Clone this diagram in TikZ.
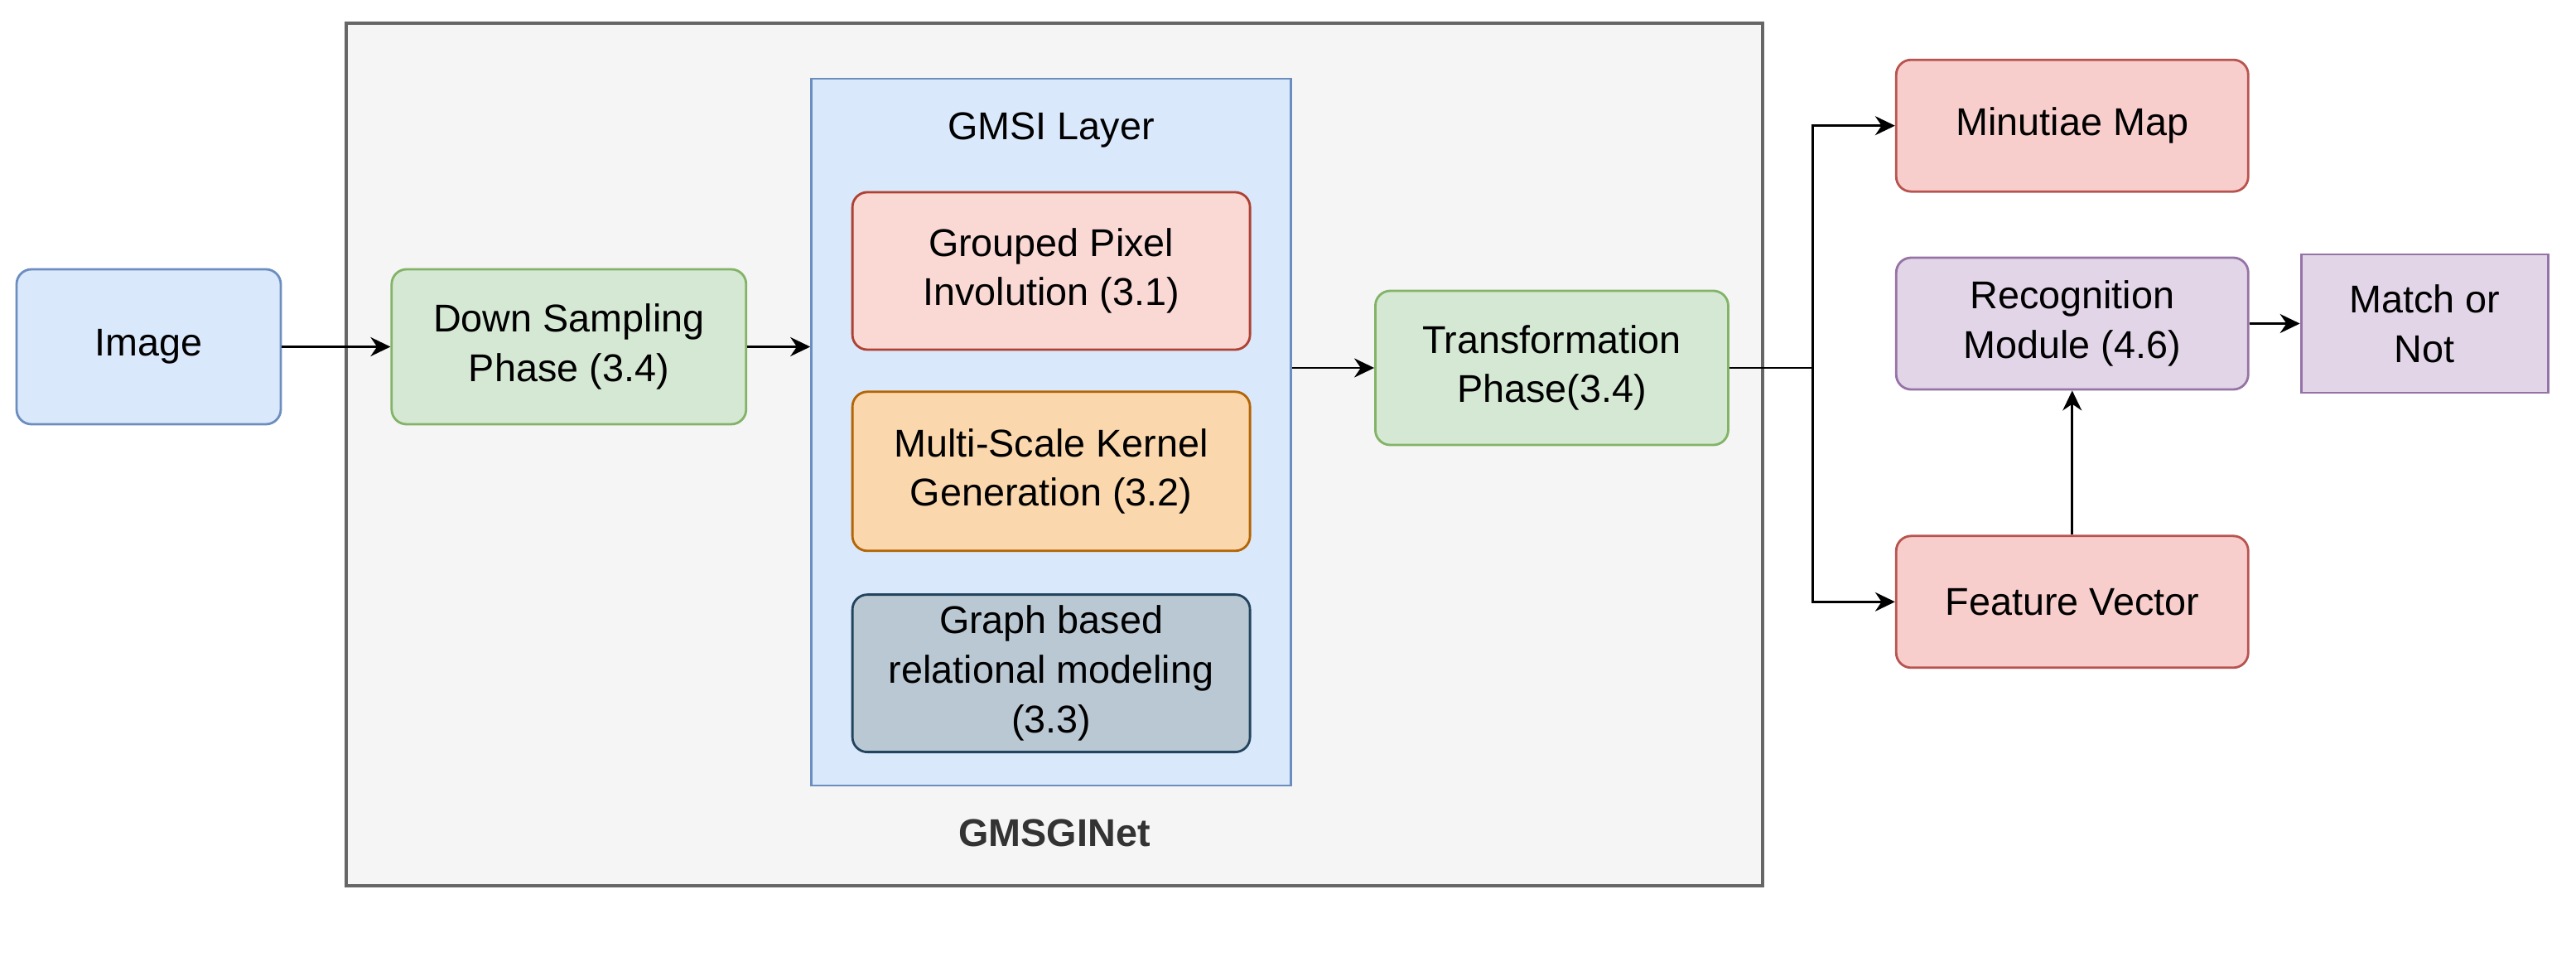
\documentclass[tikz,border=0pt]{standalone}
\usepackage{fontspec}
\setmainfont{Liberation Sans}
\usetikzlibrary{positioning,arrows.meta}

\definecolor{bluefill}{HTML}{DAE8FC}
\definecolor{bluedraw}{HTML}{6C8EBF}
\definecolor{greenfill}{HTML}{D5E8D4}
\definecolor{greendraw}{HTML}{82B366}
\definecolor{redfill}{HTML}{F8CECC}
\definecolor{reddraw}{HTML}{B85450}
\definecolor{pinkfill}{HTML}{FAD9D5}
\definecolor{pinkdraw}{HTML}{AE4132}
\definecolor{orangefill}{HTML}{FAD7AC}
\definecolor{orangedraw}{HTML}{B46504}
\definecolor{slatefill}{HTML}{BAC8D3}
\definecolor{slatedraw}{HTML}{23445D}
\definecolor{purplefill}{HTML}{E1D5E7}
\definecolor{purpledraw}{HTML}{9673A6}
\definecolor{outerfill}{HTML}{F5F5F5}
\definecolor{outerdraw}{HTML}{666666}
\definecolor{titletext}{HTML}{333333}

\begin{document}
\begin{tikzpicture}
    \tikzstyle{block} = [rectangle, rounded corners=0.18cm, draw, align=center, inner sep=0pt, line width=0.8pt, font=\fontsize{13.3}{17}\selectfont]
    \tikzstyle{plainbox} = [rectangle, draw, align=center, inner sep=0pt, line width=0.8pt, font=\fontsize{13.3}{17}\selectfont]
    \tikzstyle{bluebox} = [fill=bluefill, draw=bluedraw]
    \tikzstyle{greenbox} = [fill=greenfill, draw=greendraw]
    \tikzstyle{redbox} = [fill=redfill, draw=reddraw]
    \tikzstyle{pinkbox} = [fill=pinkfill, draw=pinkdraw]
    \tikzstyle{orangebox} = [fill=orangefill, draw=orangedraw]
    \tikzstyle{slatebox} = [fill=slatefill, draw=slatedraw]
    \tikzstyle{purplebox} = [fill=purplefill, draw=purpledraw]
    \tikzstyle{arr} = [-{Stealth[length=2.4mm, width=2.3mm]}, line width=0.8pt]

    \useasboundingbox (0,0) rectangle (31.1,-11.61);

    \node [rectangle, draw=outerdraw, fill=outerfill, line width=0.9pt, minimum width=17.1cm, minimum height=10.41cm] (gmsginet) at (12.73,-5.485) {};
    \node [block, bluebox, minimum width=3.19cm, minimum height=1.87cm] (image) at (1.795,-4.185) {Image};
    \node [block, greenbox, minimum width=4.28cm, minimum height=1.87cm, right=1.31 of image] (down) {Down Sampling\\Phase (3.4)};
    \node [plainbox, bluebox, minimum width=5.79cm, minimum height=8.53cm, right=0.76 of down, yshift=-1.03cm] (gmsi) {};
    \node [below=0.42 of gmsi.north, inner sep=0pt, font=\fontsize{13.3}{17}\selectfont] (gmsititle) {GMSI Layer};
    \node [block, pinkbox, minimum width=4.8cm, minimum height=1.9cm, below=1.37 of gmsi.north] (involution) {Grouped Pixel\\Involution (3.1)};
    \node [block, orangebox, minimum width=4.8cm, minimum height=1.92cm, below=0.48 of involution] (kernel) {Multi-Scale Kernel\\Generation (3.2)};
    \node [block, slatebox, minimum width=4.8cm, minimum height=1.9cm, below=0.50 of kernel] (graph) {Graph based\\relational modeling\\(3.3)};
    \node [block, greenbox, minimum width=4.26cm, minimum height=1.86cm, right=0.99 of gmsi, yshift=0.775cm] (transform) {Transformation\\Phase(3.4)};
    \node [block, purplebox, minimum width=4.25cm, minimum height=1.59cm, right=2.00 of transform, yshift=0.535cm] (recognition) {Recognition\\Module (4.6)};
    \node [block, redbox, minimum width=4.25cm, minimum height=1.59cm, above=0.77 of recognition] (minutiae) {Minutiae Map};
    \node [block, redbox, minimum width=4.25cm, minimum height=1.59cm, below=1.74 of recognition] (feature) {Feature Vector};
    \node [plainbox, purplebox, minimum width=2.98cm, minimum height=1.67cm, right=0.61 of recognition] (match) {Match or\\Not};
    \node [above=0.48 of gmsginet.south, inner sep=0pt, text=titletext, font=\fontsize{13.3}{17}\selectfont\bfseries] (gmsginettitle) {GMSGINet};

    \draw[arr] (image) -- (down);
    \draw[arr] (down) -- (down -| gmsi.west);
    \draw[arr] (gmsi.east |- transform) -- (transform);
    \draw[arr] (transform.east) -- ++(1.01,0) |- (minutiae);
    \draw[arr] (transform.east) -- ++(1.01,0) |- (feature);
    \draw[arr] (feature) -- (recognition);
    \draw[arr] (recognition) -- (match);
\end{tikzpicture}
\end{document}
